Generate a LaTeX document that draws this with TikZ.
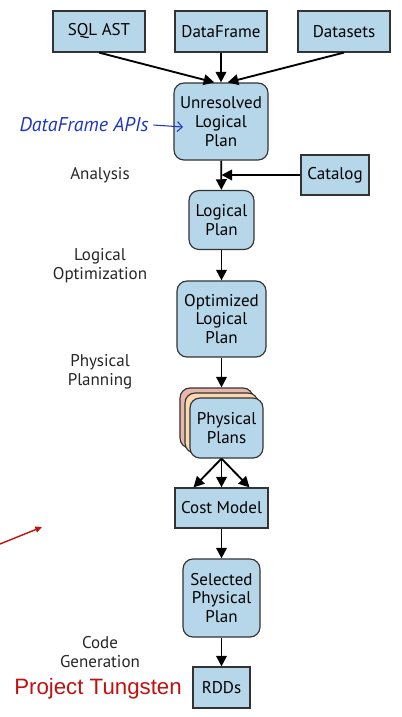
\documentclass[tikz,border=0pt]{standalone}
\usepackage{fontspec}
\setmainfont{PT Sans}
\newfontfamily\tungstenfont{Liberation Sans}
\usetikzlibrary{arrows.meta}
\definecolor{planblue}{RGB}{182,215,234}
\definecolor{planpink}{RGB}{232,182,170}
\definecolor{planpeach}{RGB}{250,216,176}
\definecolor{inkblue}{RGB}{30,55,190}
\definecolor{tungred}{RGB}{192,16,16}

\begin{document}
\begin{tikzpicture}[x=0.03cm, y=-0.03cm, line width=1.6pt,
  box/.style={draw=black!80, line width=1pt, fill=planblue, inner sep=0pt,
    align=center, font=\fontsize{14.5}{16}\selectfont},
  plan/.style={box, rounded corners=0.3cm},
  stage/.style={align=center, text=black!85, font=\fontsize{14.5}{16}\selectfont},
  flow/.style={-{Triangle[length=0.32cm,width=0.32cm]}}]
  \useasboundingbox (0,0) rectangle (402,717);
  % sources
  \node[box, minimum width=2.76cm, minimum height=1.23cm] (sql) at (99,31.5) {SQL AST};
  \node[box, minimum width=2.76cm, minimum height=1.23cm] (df) at (221,31.5) {DataFrame};
  \node[box, minimum width=2.76cm, minimum height=1.23cm] (ds) at (344,31.5) {Datasets};
  % plans
  \node[plan, minimum width=2.82cm, minimum height=2.31cm] (unres) at (221,121.5) {Unresolved\\Logical\\Plan};
  \node[box, minimum width=2.04cm, minimum height=1.2cm] (cat) at (335,175) {Catalog};
  \node[plan, minimum width=1.95cm, minimum height=1.77cm] (lp) at (221.5,220) {Logical\\Plan};
  \node[plan, minimum width=2.67cm, minimum height=2.28cm] (olp) at (221.5,319) {Optimized\\Logical\\Plan};
  \node[plan, fill=planpink, minimum width=2.19cm, minimum height=1.8cm] (pp3) at (216.5,418) {};
  \node[plan, fill=planpeach, minimum width=2.19cm, minimum height=1.8cm] (pp2) at (221.5,423) {};
  \node[plan, minimum width=2.19cm, minimum height=1.8cm] (pp) at (226.5,428) {Physical\\Plans};
  \node[box, minimum width=2.79cm, minimum height=1.2cm] (cost) at (221.5,508) {Cost Model};
  \node[plan, minimum width=2.31cm, minimum height=2.34cm] (sel) at (221.5,598) {Selected\\Physical\\Plan};
  \node[box, minimum width=1.71cm, minimum height=1.23cm] (rdd) at (221.5,687.5) {RDDs};
  % phase labels
  \node[stage] (ana) at (100,175) {Analysis};
  \node[stage] (lopt) at (100,266) {Logical\\Optimization};
  \node[stage] (pplan) at (100,372) {Physical\\Planning};
  \node[stage] (cgen) at (100,652) {Code\\Generation};
  % arrows
  \draw[flow] (sql.south) -- ([xshift=-0.2cm]unres.north);
  \draw[flow] (df) -- (unres);
  \draw[flow] (ds.south) -- ([xshift=0.2cm]unres.north);
  \draw[flow] (unres) -- (lp);
  \draw[flow] (cat.west) -- (cat.west -| lp.north);
  \draw[flow] (lp) -- (olp);
  \draw[flow] (olp.south) -- (olp.south |- pp3.north);
  \coordinate (fork) at (pp.south -| cost.north);
  \foreach \dx in {-0.84cm, 0cm, 0.84cm} { \draw[flow] (fork) -- ([xshift=\dx]cost.north); }
  \draw[flow] (cost) -- (sel);
  \draw[flow] (sel) -- (rdd);
  % annotations
  \node[text=inkblue, font=\itshape\fontsize{17}{17}\selectfont] (api) at (84,125) {DataFrame APIs};
  \coordinate (apitip) at (183,127);
  \draw[inkblue, line width=0.9pt, -{Straight Barb[length=0.15cm]}] (api.east) -- (apitip);
  \node[text=tungred, font=\tungstenfont\fontsize{19}{19}\selectfont] (tung) at (98,689) {Project Tungsten};
  \coordinate (redfrom) at (0,544);
  \coordinate (redto) at (42,527);
  \draw[tungred, line width=1.2pt, -{Triangle[length=0.2cm,width=0.18cm]}] (redfrom) -- (redto);
\end{tikzpicture}
\end{document}
